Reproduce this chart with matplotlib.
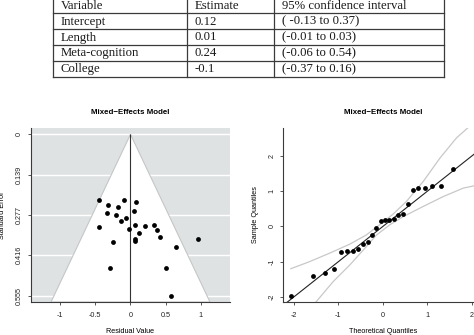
import matplotlib
matplotlib.use("Agg")
import matplotlib.pyplot as plt
from statistics import NormalDist

plt.rcParams['font.family'] = ['Liberation Sans', 'DejaVu Sans']

# coefficient table
table_header = ['Variable', 'Estimate', '95% confidence interval']
table_vars = ['Intercept', 'Length', 'Meta-cognition', 'College']
table_est = ['0.12', '0.01', '0.24', '-0.1']
table_ci = ['( -0.13 to 0.37)', '(-0.01 to 0.03)', '(-0.06 to 0.54)', '(-0.37 to 0.16)']

# funnel plot: residuals and their standard errors
resid = [-0.445, -0.313, -0.095, 0.076, -0.171, -0.327, -0.199, 0.043, -0.066,
         -0.142, -0.450, -0.019, 0.071, 0.204, 0.123, 0.341, 0.384, 0.417,
         0.071, 0.071, -0.251, 0.645, 0.957, -0.289, 0.502, 0.573]
std_err = [0.226, 0.243, 0.227, 0.233, 0.249, 0.271, 0.276, 0.264, 0.288,
           0.299, 0.320, 0.324, 0.311, 0.316, 0.339, 0.312, 0.328, 0.354,
           0.359, 0.366, 0.369, 0.386, 0.359, 0.459, 0.460, 0.556]
se_ticks = [0, 0.139, 0.277, 0.416, 0.555]

# normal QQ plot of standardized residuals (sorted; the largest one lies
# past the right-hand edge of the panel)
sample_q = [-1.967, -1.406, -1.311, -1.207, -0.732, -0.694, -0.684, -0.637,
            -0.485, -0.437, -0.247, -0.057, 0.162, 0.190, 0.190, 0.219,
            0.314, 0.352, 0.637, 1.026, 1.083, 1.093, 1.150, 1.150, 1.644]
env_up_x = [-2.07, -1.65, -1.20, -0.74, -0.37, -0.07, 0.23, 0.53, 0.91, 1.29, 1.66, 2.0]
env_up_y = [-1.20, -1.00, -0.76, -0.50, -0.24, 0.05, 0.35, 0.71, 1.28, 1.95, 2.52, 2.90]
env_lo_x = [-1.56, -1.50, -1.12, -0.74, -0.44, -0.14, 0.16, 0.46, 0.91, 1.36, 1.81, 2.07]
env_lo_y = [-2.22, -2.14, -1.57, -1.09, -0.67, -0.24, 0.05, 0.28, 0.57, 0.85, 1.09, 1.16]

fig = plt.figure(figsize=(4.74, 3.35), dpi=100)

# --- table, drawn in pixel coordinates ---
tab = fig.add_axes([0, 0, 1, 1])
tab.set_xlim(0, 474)
tab.set_ylim(335, 0)
tab.axis('off')
col_x = [53.3, 186.7, 274.3, 444.3]
row_y = [-2.5, 13.3, 29.0, 45.0, 60.7, 76.7]
for y in row_y:
    tab.plot([col_x[0], col_x[-1]], [y, y], color='#3a3a3a', lw=0.9)
for x in col_x:
    tab.plot([x, x], [row_y[0], row_y[-1]], color='#3a3a3a', lw=0.9)
rows = [table_header] + [list(r) for r in zip(table_vars, table_est, table_ci)]
for i, row in enumerate(rows):
    yc = (row_y[i] + row_y[i + 1]) / 2
    for j, txt in enumerate(row):
        tab.text(col_x[j] + 7.5, yc + 0.5, txt, family='Liberation Serif',
                 fontsize=9.2, color='#1a1a1a', va='center', ha='left')

axis_col = '#3a3a3a'
fs = 5.2


def style(ax):
    for s in ['top', 'right']:
        ax.spines[s].set_visible(False)
    for s in ['left', 'bottom']:
        ax.spines[s].set_color(axis_col)
        ax.spines[s].set_linewidth(0.8)
    ax.tick_params(direction='out', length=2.4, width=0.6, color=axis_col,
                   labelsize=fs, labelcolor='#222222')
    ax.tick_params(axis='x', pad=4.5)
    ax.tick_params(axis='y', pad=3.5)


# --- funnel plot ---
ax1 = fig.add_axes([0.0654, 0.0985, 0.4198, 0.5194])
se_max = 0.5767
ax1.set_xlim(-1.415, 1.415)
ax1.set_ylim(se_max, -0.0217)
ax1.set_facecolor('#dfe2e3')
ax1.set_axisbelow(True)
ax1.set_yticks(se_ticks)
ax1.set_yticklabels([f'{v:g}' for v in se_ticks], rotation=90, va='center')
ax1.set_xticks([-1, -0.5, 0, 0.5, 1])
ax1.set_xticklabels(['-1', '-0.5', '0', '0.5', '1'])
ax1.grid(axis='y', color='white', lw=1.0)
ax1.fill([-1.96 * se_max, 0, 1.96 * se_max], [se_max, 0, se_max],
         facecolor='white', edgecolor='#c4c6c7', lw=0.8, zorder=1)
ax1.vlines(0, 0, se_max, color='#333333', lw=0.8, zorder=2)
ax1.scatter(resid, std_err, s=12, color='black', zorder=3, linewidths=0)
style(ax1)
ax1.set_title('Mixed\u2212Effects Model', fontsize=5.7, fontweight='bold', pad=10)
ax1.set_xlabel('Residual Value', fontsize=fs, labelpad=6.5)
ax1.set_ylabel('Standard Error', fontsize=fs, labelpad=7)

# --- QQ plot ---
ax2 = fig.add_axes([0.5981, 0.0985, 0.419, 0.5194])
n = len(resid)
theo_q = [NormalDist().inv_cdf((i + 0.5) / n) for i in range(len(sample_q))]
ax2.set_xlim(-2.236, 2.236)
ax2.set_ylim(-2.147, 2.80)
ax2.set_xticks([-2, -1, 0, 1, 2])
ax2.set_xticklabels(['-2', '-1', '0', '1', '2'])
ax2.set_yticks([-2, -1, 0, 1, 2])
ax2.set_yticklabels(['-2', '-1', '0', '1', '2'], rotation=90, va='center')
ax2.plot(env_up_x, env_up_y, color='#c8c8c8', lw=0.9)
ax2.plot(env_lo_x, env_lo_y, color='#c8c8c8', lw=0.9)
ax2.axline((0, 0), slope=1, color='#222222', lw=0.8)
ax2.scatter(theo_q, sample_q, s=12, color='black', zorder=3, linewidths=0)
style(ax2)
ax2.set_title('Mixed\u2212Effects Model', fontsize=5.7, fontweight='bold', pad=10)
ax2.set_xlabel('Theoretical Quantiles', fontsize=fs, labelpad=6.5)
ax2.set_ylabel('Sample Quantiles', fontsize=fs, labelpad=7)

fig.savefig('out.png', dpi=100)
